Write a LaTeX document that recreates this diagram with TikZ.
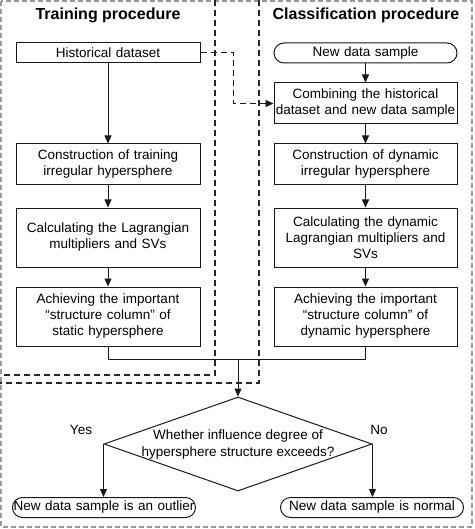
\documentclass[tikz,border=0pt]{standalone}
\usepackage{fontspec}
\setmainfont{Liberation Sans}
\usetikzlibrary{arrows.meta,shapes.geometric}
\begin{document}
\begin{tikzpicture}[x=1pt,y=-1pt,
  txt/.style={font=\fontsize{13.5}{16}\selectfont},
  box/.style={txt, draw=black!90, line width=1pt, minimum width=184pt, text width=182pt, align=center, inner sep=0pt},
  stad/.style={box, rounded corners=10pt, minimum height=20pt},
  title/.style={font=\fontsize{16}{18}\selectfont\bfseries},
  arr/.style={draw=black!90, line width=1pt, -{Triangle[length=8pt,width=7pt]}},
  conn/.style={draw=black!90, line width=1pt},
  frame/.style={draw=black!85, line width=1.1pt, dash pattern=on 6pt off 4pt},
  outer/.style={draw=black!40, line width=1.8pt, dash pattern=on 5pt off 3pt}]
\useasboundingbox (0,0) rectangle (474,529);
\draw[outer] (1,1) rectangle (472,527);
\draw[frame] (215,0) -- (215,375) -- (0,375);
\draw[frame] (259,0) -- (259,383) -- (0,383);

\node[title] (t1) at (108,15) {Training procedure};
\node[title] (t2) at (366,15) {Classification procedure};

\node[box, minimum height=20pt] (L1) at (108,53) {Historical dataset};
\node[box, minimum height=41pt] (L2) at (108,164.5) {Construction of training\\irregular hypersphere};
\node[box, minimum height=59pt] (L3) at (108,237.5) {Calculating the Lagrangian\\multipliers and SVs};
\node[box, minimum height=59pt] (L4) at (108,316.5) {Achieving the important\\“structure column” of\\static hypersphere};

\node[stad, minimum width=183pt] (R1) at (365.5,53) {New data sample};
\node[box, minimum width=183pt, minimum height=41pt] (R2) at (365.5,103.5) {Combining the historical\\dataset and new data sample};
\node[box, minimum width=183pt, minimum height=41pt] (R3) at (365.5,164.5) {Construction of dynamic\\irregular hypersphere};
\node[box, minimum width=183pt, minimum height=59pt] (R4) at (365.5,237.5) {Calculating the dynamic\\Lagrangian multipliers and\\SVs};
\node[box, minimum width=183pt, minimum height=59pt] (R5) at (365.5,316.5) {Achieving the important\\“structure column” of\\dynamic hypersphere};

\node[diamond, draw=black!90, line width=1pt, minimum width=268pt, minimum height=94pt, inner sep=0pt] (D) at (238,444) {};
\node[txt, font=\fontsize{13.5}{17}\selectfont, align=center] (dt) at (238,445) {Whether influence degree of\\hypersphere structure exceeds?};

\node[txt] (yes) at (81,430) {Yes};
\node[txt] (no) at (379,430) {No};

\node[stad, minimum width=183pt] (O) at (104,507.5) {New data sample is an outlier};
\node[stad, minimum width=183pt] (N) at (372,507.5) {New data sample is normal};

\draw[arr] (L1) -- (L2);
\draw[arr] (L2) -- (L3);
\draw[arr] (L3) -- (L4);
\draw[arr] (R1) -- (R2);
\draw[arr] (R2) -- (R3);
\draw[arr] (R3) -- (R4);
\draw[arr] (R4) -- (R5);

\coordinate (b1) at (233,53);
\draw[arr, dash pattern=on 6pt off 4pt] (L1.east) -- (b1) |- (R2.west);

\coordinate (m) at (238,359);
\draw[conn] (L4.south) |- (m);
\draw[conn] (R5.south) |- (m);
\draw[arr] (m) -- (D.north);

\draw[arr] (D.west) -- (O.north -| D.west);
\draw[arr] (D.east) -- (N.north -| D.east);
\end{tikzpicture}
\end{document}
